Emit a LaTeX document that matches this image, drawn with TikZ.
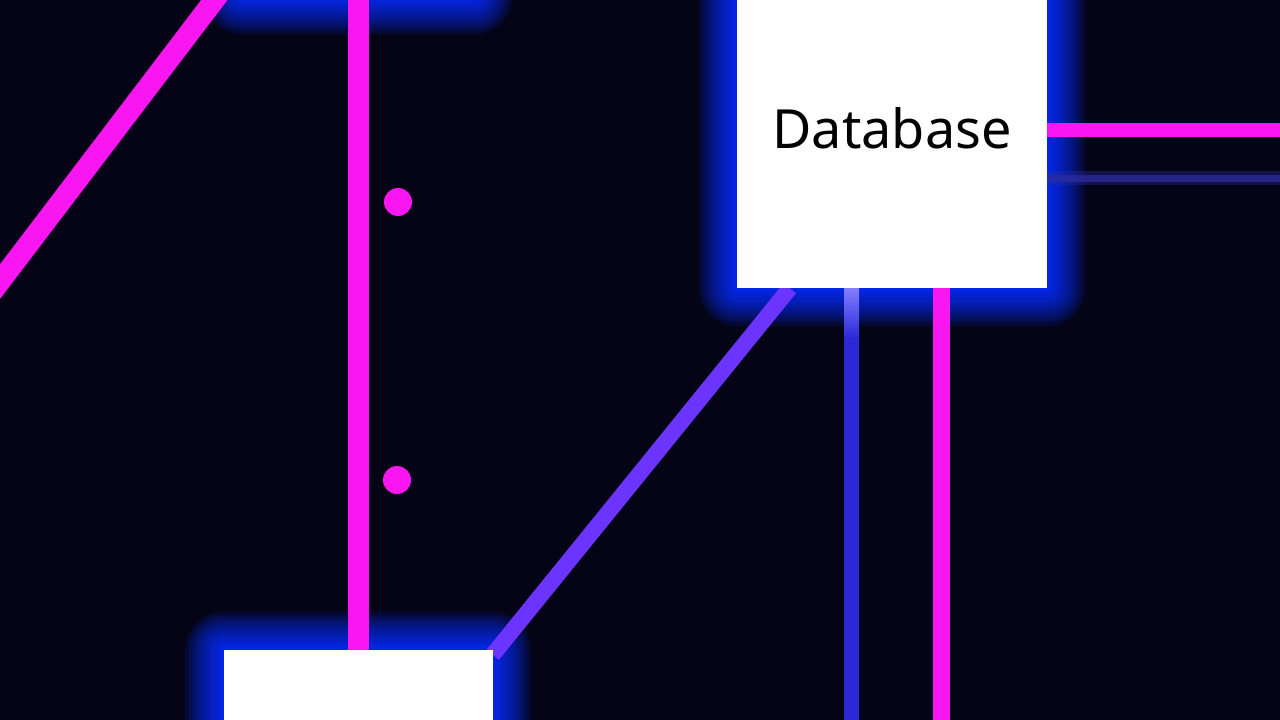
\documentclass[tikz,border=0pt]{standalone}
\usepackage{fontspec}
\setmainfont{Noto Sans}
\usetikzlibrary{calc}
\definecolor{bgc}{RGB}{4,4,22}
\definecolor{mag}{RGB}{250,22,240}
\definecolor{purp}{RGB}{108,52,255}
\definecolor{bluel}{RGB}{44,40,215}
\definecolor{bluetop}{RGB}{130,125,255}
\definecolor{glowc}{RGB}{10,45,255}
\definecolor{faint}{RGB}{45,45,160}
\pgfdeclarelayer{bglayer}
\pgfdeclarelayer{glowlayer}
\pgfdeclarelayer{linelayer}
\pgfsetlayers{bglayer,glowlayer,linelayer,main}
\tikzset{
  box/.style={fill=white, draw=none, inner sep=0pt},
  magline/.style={draw=mag, line width=21pt},
  magthin/.style={draw=mag, line width=17pt},
  maghz/.style={draw=mag, line width=14pt},
  purpline/.style={draw=purp, line width=16pt},
  blueline/.style={draw=bluel, line width=15pt},
  faintwide/.style={draw=faint, line width=14pt, opacity=0.35},
  faintline/.style={draw=faint, line width=7pt, opacity=0.7},
  dotnode/.style={circle, fill=mag, draw=none, minimum size=28pt, inner sep=0pt},
  glowlayerstyle/.style={fill=glowc, opacity=0.13}
}
\begin{document}
\begin{tikzpicture}[x=1pt,y=-1pt]
\useasboundingbox (0,0) rectangle (1280,720);
\begin{pgfonlayer}{bglayer}
  \fill[bgc] (0,0) rectangle (1280,720);
\end{pgfonlayer}

% boxes
\node[box, minimum width=310pt, minimum height=320pt, font=\fontsize{54}{60}\selectfont] (db) at (892,128) {Database};
\node[box, minimum width=269pt, minimum height=160pt] (bot) at (358,730) {};
\node[box, minimum width=232pt, minimum height=160pt] (top) at (358,-84) {};

% dots
\node[dotnode] (d1) at (398,202) {};
\node[dotnode] (d2) at (397,480) {};

% free ends
\coordinate (tlA) at (-30,321);
\coordinate (tlB) at (228,-18);
\coordinate (blueEnd) at (851.5,740);
\coordinate (magEnd) at (941.5,740);
\coordinate (rEnd1) at (1300,130);
\coordinate (rEnd2) at (1300,178);

\begin{pgfonlayer}{glowlayer}
  \foreach \n in {db,bot,top}{
    \foreach \i in {1,...,20}{
      \pgfmathsetmacro{\d}{\i*\i/10.5}
      \fill[glowlayerstyle, rounded corners=\d pt]
        ([shift={(-\d pt,-\d pt)}]\n.south west) rectangle ([shift={(\d pt,\d pt)}]\n.north east);
    }
  }
\end{pgfonlayer}

\begin{pgfonlayer}{linelayer}
  \draw[magline] (top.south) -- (bot.north);
  \draw[magline] (tlA) -- (tlB);
  \draw[purpline] ($(bot.north east)+(0,5)$) -- ($(db.south west)+(53,0)$);
  \draw[blueline] (db.south -| blueEnd) -- (blueEnd);
  \shade[top color=bluetop, bottom color=bluel] ($(db.south -| blueEnd)+(-7.5,0)$) rectangle ($(db.south -| blueEnd)+(7.5,50)$);
  \draw[magthin] (db.south -| magEnd) -- (magEnd);
  \draw[maghz] (db.east |- rEnd1) -- (rEnd1);
  \draw[faintwide] (db.east |- rEnd2) -- (rEnd2);
  \draw[faintline] (db.east |- rEnd2) -- (rEnd2);
\end{pgfonlayer}
\end{tikzpicture}
\end{document}
